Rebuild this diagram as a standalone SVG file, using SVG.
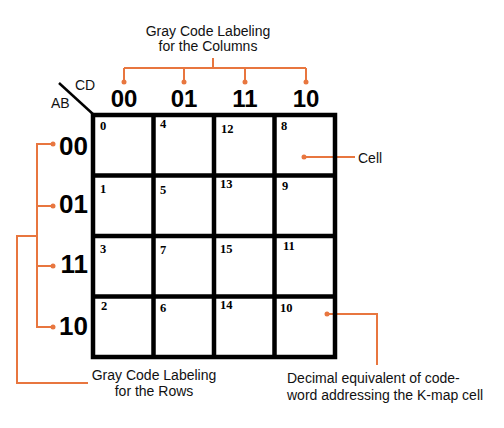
<svg xmlns="http://www.w3.org/2000/svg" width="504" height="428" viewBox="0 0 504 428">
<defs>
<style>
.lbl{font-family:"Liberation Sans",Arial,sans-serif;font-size:14px;fill:#111}
.hdr{font-family:"Liberation Sans",Arial,sans-serif;font-size:24px;font-weight:bold;fill:#000}
.rhdr{font-family:"Liberation Sans",Arial,sans-serif;font-size:26px;font-weight:bold;fill:#000}
.num{font-family:"Liberation Serif","Times New Roman",serif;font-size:12.5px;font-weight:bold;fill:#000}
.grid{fill:none;stroke:#000;stroke-width:4.5}
.or{fill:none;stroke:#E8763F;stroke-width:2}
.dot{fill:#E8763F}
</style>
</defs>
<rect width="504" height="428" fill="#fff"/>
<g id="connectors">
<path class="or" d="M213 58V68M124 68H306M124 68V82M184 68V82M245 68V82M306 68V82"/>
<circle class="dot" cx="124" cy="82" r="2.5"/>
<circle class="dot" cx="184" cy="82" r="2.5"/>
<circle class="dot" cx="245" cy="82" r="2.5"/>
<circle class="dot" cx="306" cy="82" r="2.5"/>
<path class="or" d="M53 144H37V327H53M37 206H53M37 266H53M37 236H17V383H88"/>
<circle class="dot" cx="53" cy="144" r="2.5"/>
<circle class="dot" cx="53" cy="206" r="2.5"/>
<circle class="dot" cx="53" cy="266" r="2.5"/>
<circle class="dot" cx="53" cy="327" r="2.5"/>
<path class="or" d="M304 157H355"/>
<circle class="dot" cx="304" cy="157" r="2.5"/>
<path class="or" d="M327 314H377V365"/>
<circle class="dot" cx="327" cy="314" r="2.5"/>
</g>
<g id="title-columns">
<text class="lbl" x="208" y="36" text-anchor="middle">Gray Code Labeling</text>
<text class="lbl" x="208" y="51" text-anchor="middle">for the Columns</text>
</g>
<g id="corner">
<path d="M59 83L94 115" stroke="#000" stroke-width="2.5"/>
<text class="lbl" x="75" y="90">CD</text>
<text class="lbl" x="51" y="108">AB</text>
</g>
<g id="col-labels">
<text class="hdr" x="124" y="107" text-anchor="middle">00</text>
<text class="hdr" x="184" y="107" text-anchor="middle">01</text>
<text class="hdr" x="245" y="107" text-anchor="middle">11</text>
<text class="hdr" x="306" y="107" text-anchor="middle">10</text>
</g>
<g id="row-labels">
<text class="rhdr" x="88" y="155" text-anchor="end">00</text>
<text class="rhdr" x="88" y="213" text-anchor="end">01</text>
<text class="rhdr" x="88" y="273" text-anchor="end">11</text>
<text class="rhdr" x="88" y="335" text-anchor="end">10</text>
</g>
<g id="kmap">
<rect class="grid" x="93" y="115" width="242" height="242"/>
<path class="grid" d="M153.5 115V357M214 115V357M274.5 115V357M93 175.5H335M93 236H335M93 296.5H335"/>
<text class="num" x="100" y="130">0</text>
<text class="num" x="160" y="128">4</text>
<text class="num" x="221" y="133">12</text>
<text class="num" x="281" y="130">8</text>
<text class="num" x="100" y="193">1</text>
<text class="num" x="160" y="194">5</text>
<text class="num" x="220" y="188">13</text>
<text class="num" x="282" y="190">9</text>
<text class="num" x="100" y="253">3</text>
<text class="num" x="160" y="254">7</text>
<text class="num" x="220" y="253">15</text>
<text class="num" x="283" y="250">11</text>
<text class="num" x="101" y="310">2</text>
<text class="num" x="160" y="312">6</text>
<text class="num" x="220" y="309">14</text>
<text class="num" x="280" y="312">10</text>
</g>
<g id="cell-label">
<text class="lbl" x="358" y="163">Cell</text>
</g>
<g id="title-rows">
<text class="lbl" x="154" y="380" text-anchor="middle">Gray Code Labeling</text>
<text class="lbl" x="154" y="396" text-anchor="middle">for the Rows</text>
</g>
<g id="decimal-label">
<text class="lbl" x="287" y="383">Decimal equivalent of code-</text>
<text class="lbl" x="287" y="400">word addressing the K-map cell</text>
</g>
</svg>
